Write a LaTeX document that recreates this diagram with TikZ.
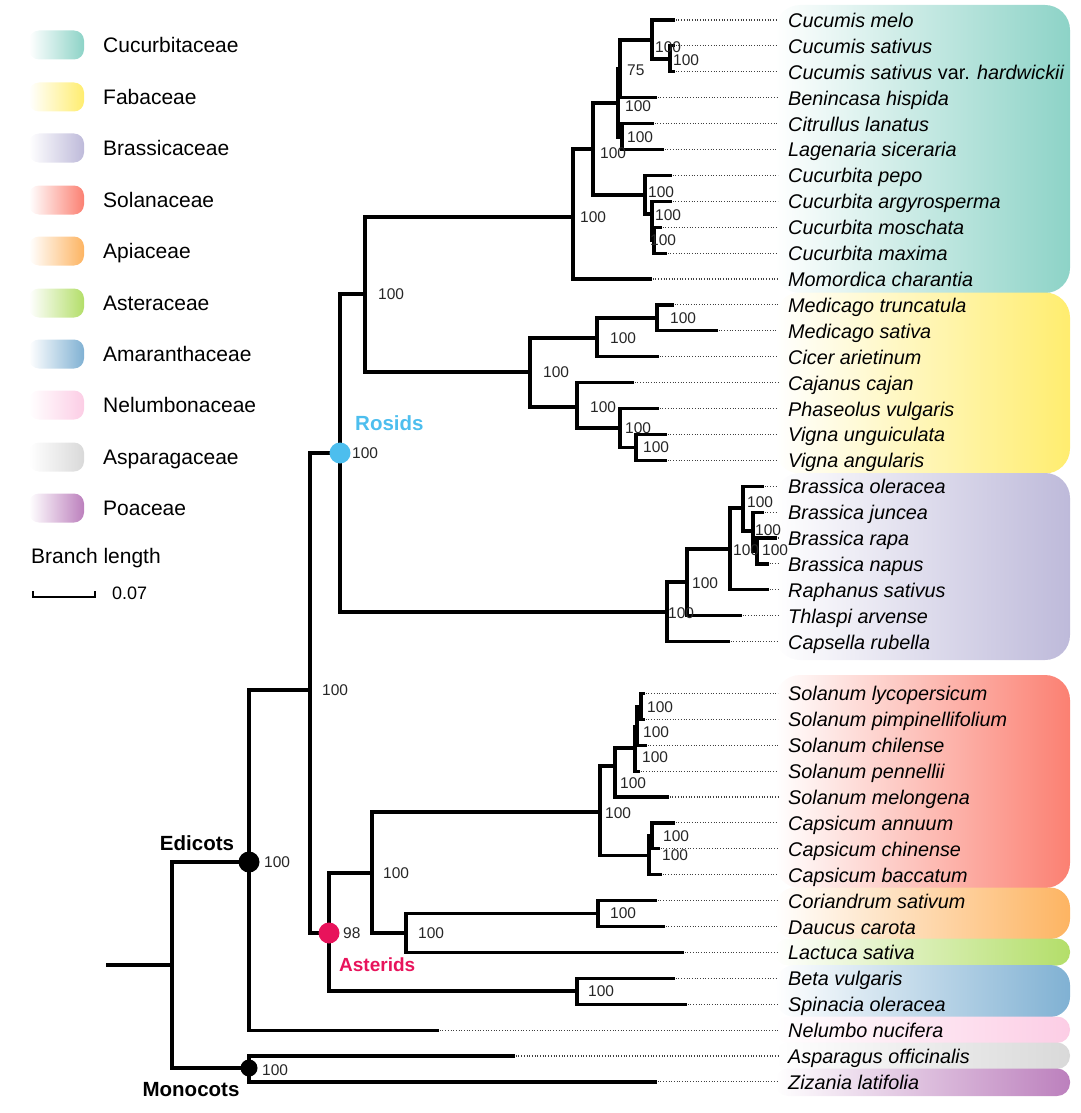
\documentclass[tikz,border=0pt]{standalone}
\usepackage{fontspec}
\setmainfont{Liberation Sans}
\usetikzlibrary{calc}
\definecolor{cucc}{HTML}{8DD3C7}
\definecolor{fabc}{HTML}{FFED6F}
\definecolor{brac}{HTML}{BEBADA}
\definecolor{solc}{HTML}{FB8072}
\definecolor{apic}{HTML}{FDB462}
\definecolor{astc}{HTML}{B3DE69}
\definecolor{amac}{HTML}{80B1D3}
\definecolor{nelc}{HTML}{FCCDE5}
\definecolor{aspc}{HTML}{D9D9D9}
\definecolor{poac}{HTML}{BC80BD}
\definecolor{rosc}{HTML}{4DBEEE}
\definecolor{astr}{HTML}{E8135B}
\newcommand\leaf[4]{%
  \coordinate (#1) at (#3,#2);
  \coordinate (#1E) at (778,#2);
  \node[leaflabel] (#1L) at (788,{#2+7.5}) {#4};
  \draw[leader] (#1) -- (#1E);}
\newcommand\bsl[5]{\node[bs] (bs#1) at ([shift={(#3,#4)}]#2) {#5};}
\newcommand\band[5]{\path[left color=white,right color=#1,rounded corners=#4] (775,#2) rectangle (1070,#3) node[inner sep=0pt] (#5) {};}
\newcommand\legitem[4]{%
  \path[left color=white,right color=#2,rounded corners=10] (29,{#3-14.5}) rectangle (84,{#3+14.5});
  \node[legtext] (#1) at (103,{#3+7.5}) {#4};}
\begin{document}
\begin{tikzpicture}[x=1pt,y=-1pt,
  branch/.style={line width=3.2pt, line cap=rect, line join=miter},
  leader/.style={line width=1.1pt, black!75, dash pattern=on 1pt off 1.7pt},
  leaflabel/.style={anchor=base west, inner sep=0pt, font=\fontsize{19.8}{22}\selectfont\itshape},
  bs/.style={anchor=west, inner sep=0pt, font=\fontsize{15.5}{17}\selectfont, text=black!85},
  legtext/.style={anchor=base west, inner sep=0pt, font=\fontsize{21}{24}\selectfont},
  cladelab/.style={anchor=base, inner sep=0pt, font=\fontsize{20.5}{24}\selectfont\bfseries},
  clademark/.style={circle, inner sep=0pt, minimum size=#1}]
\useasboundingbox (0,0) rectangle (1080,1113);

% family bands
\band{cucc}{5}{293}{25}{bandCuc}
\band{fabc}{292.5}{473.5}{25}{bandFab}
\band{brac}{473}{660}{25}{bandBra}
\band{solc}{675}{888}{25}{bandSol}
\band{apic}{887.5}{939}{20}{bandApi}
\band{astc}{938.5}{965.5}{13}{bandAst}
\band{amac}{965}{1017}{20}{bandAma}
\band{nelc}{1016.5}{1043}{13}{bandNel}
\band{aspc}{1042.5}{1069}{13}{bandAsp}
\band{poac}{1068.5}{1096}{13}{bandPoa}

% legend
\legitem{lg1}{cucc}{45}{Cucurbitaceae}
\legitem{lg2}{fabc}{97}{Fabaceae}
\legitem{lg3}{brac}{148}{Brassicaceae}
\legitem{lg4}{solc}{200}{Solanaceae}
\legitem{lg5}{apic}{251}{Apiaceae}
\legitem{lg6}{astc}{303}{Asteraceae}
\legitem{lg7}{amac}{354}{Amaranthaceae}
\legitem{lg8}{nelc}{405}{Nelumbonaceae}
\legitem{lg9}{aspc}{457}{Asparagaceae}
\legitem{lg10}{poac}{508}{Poaceae}
\node[legtext] (blen) at (31,563) {Branch length};
\coordinate (sb1) at (33,591);
\coordinate (sb2) at (33,597);
\coordinate (sb3) at (95,597);
\coordinate (sb4) at (95,591);
\draw[line width=1.8pt] (sb1) -- (sb2) -- (sb3) -- (sb4);
\node[anchor=base west, inner sep=0pt, font=\fontsize{18}{20}\selectfont] (sbl) at (112,599) {0.07};

% leaves
\leaf{melo}{20.0}{673}{Cucumis melo}
\leaf{sati}{45.9}{673}{Cucumis sativus}
\leaf{hard}{71.8}{673}{Cucumis sativus \textup{var.} hardwickii}
\leaf{beni}{97.7}{655}{Benincasa hispida}
\leaf{citr}{123.6}{652}{Citrullus lanatus}
\leaf{lage}{149.5}{662}{Lagenaria siceraria}
\leaf{pepo}{175.4}{670}{Cucurbita pepo}
\leaf{argy}{201.3}{670}{Cucurbita argyrosperma}
\leaf{mosc}{227.2}{660}{Cucurbita moschata}
\leaf{maxi}{253.1}{665}{Cucurbita maxima}
\leaf{momo}{279.0}{650}{Momordica charantia}
\leaf{mtru}{304.9}{672}{Medicago truncatula}
\leaf{msat}{330.8}{716}{Medicago sativa}
\leaf{cice}{356.7}{657}{Cicer arietinum}
\leaf{caja}{382.6}{632}{Cajanus cajan}
\leaf{phas}{408.5}{657}{Phaseolus vulgaris}
\leaf{vung}{434.4}{665}{Vigna unguiculata}
\leaf{vang}{460.3}{665}{Vigna angularis}
\leaf{bole}{486.2}{762}{Brassica oleracea}
\leaf{bjun}{512.1}{762}{Brassica juncea}
\leaf{brap}{538.0}{775}{Brassica rapa}
\leaf{bnap}{563.9}{767}{Brassica napus}
\leaf{raph}{589.8}{767}{Raphanus sativus}
\leaf{thla}{615.7}{740}{Thlaspi arvense}
\leaf{caps}{641.6}{728}{Capsella rubella}
\leaf{slyc}{693.4}{643}{Solanum lycopersicum}
\leaf{spim}{719.3}{643}{Solanum pimpinellifolium}
\leaf{schi}{745.2}{645}{Solanum chilense}
\leaf{spen}{771.1}{638}{Solanum pennellii}
\leaf{smel}{797.0}{667}{Solanum melongena}
\leaf{cann}{822.9}{673}{Capsicum annuum}
\leaf{cchi}{848.8}{658}{Capsicum chinense}
\leaf{cbac}{874.7}{660}{Capsicum baccatum}
\leaf{cori}{900.6}{655}{Coriandrum sativum}
\leaf{dauc}{926.5}{663}{Daucus carota}
\leaf{lact}{952.4}{682}{Lactuca sativa}
\leaf{beta}{978.3}{673}{Beta vulgaris}
\leaf{spin}{1004.2}{685}{Spinacia oleracea}
\leaf{nelu}{1030.1}{437}{Nelumbo nucifera}
\leaf{aspa}{1056.0}{513}{Asparagus officinalis}
\leaf{ziza}{1081.9}{655}{Zizania latifolia}

% internal nodes
\coordinate (root0) at (108,965);
\coordinate (root) at (172,965);
\coordinate (ED) at (249,862);
\coordinate (MO) at (249,1068);
\coordinate (P) at (310,690);
\coordinate (RO) at (340,453);
\coordinate (AS) at (329,933);
\coordinate (R1) at (365,294);
\coordinate (C0) at (573,217);
\coordinate (C1) at (593,149);
\coordinate (CA) at (618,103);
\coordinate (CB) at (620,69);
\coordinate (CC) at (622,137);
\coordinate (CM) at (652,40);
\coordinate (CS) at (670,59);
\coordinate (CD) at (645,195);
\coordinate (CE) at (652,214);
\coordinate (CF) at (654,240);
\coordinate (F0) at (530,372);
\coordinate (F1) at (597,338);
\coordinate (F2) at (577,407);
\coordinate (F3) at (657,318);
\coordinate (F4) at (620,428);
\coordinate (F5) at (636,447.4);
\coordinate (B0) at (667,612);
\coordinate (B1) at (687,582);
\coordinate (B2) at (730,549);
\coordinate (B3) at (743,508);
\coordinate (B4) at (753,531);
\coordinate (B5) at (757,551);
\coordinate (S0) at (372,873);
\coordinate (SO) at (600,812);
\coordinate (SM) at (615,766);
\coordinate (L3) at (635,748);
\coordinate (L2) at (637,727);
\coordinate (L1) at (641,706.4);
\coordinate (K2) at (649,855.5);
\coordinate (K1) at (652,836);
\coordinate (AP0) at (406,933);
\coordinate (AP1) at (598,913.5);
\coordinate (AM) at (577,991);

% branches
\draw[branch] (root0) -- (root);
\foreach \p/\c in {root/ED, root/MO, ED/P, ED/nelu, P/RO, P/AS, RO/R1, RO/B0,
  R1/C0, R1/F0, C0/C1, C0/momo, C1/CA, C1/CD, CA/CB, CA/CC, CB/CM, CB/beni,
  CM/melo, CM/CS, CS/sati, CS/hard, CC/citr, CC/lage, CD/pepo, CD/CE, CE/argy, CE/CF,
  CF/mosc, CF/maxi, F0/F1, F0/F2, F1/F3, F1/cice, F3/mtru, F3/msat, F2/caja, F2/F4,
  F4/phas, F4/F5, F5/vung, F5/vang, B0/B1, B0/caps, B1/B2, B1/thla, B2/B3, B2/raph,
  B3/bole, B3/B4, B4/bjun, B4/B5, B5/brap, B5/bnap, AS/S0, AS/AM, S0/SO, S0/AP0,
  SO/SM, SO/K2, SM/L3, SM/smel, L3/L2, L3/spen, L2/L1, L2/schi, L1/slyc, L1/spim,
  K2/K1, K2/cbac, K1/cann, K1/cchi, AP0/AP1, AP0/lact, AP1/cori, AP1/dauc,
  AM/beta, AM/spin, MO/aspa, MO/ziza}
  {\draw[branch] (\p) |- (\c);}

% clade markers
\node[clademark=21pt, fill=rosc] (ROc) at (RO) {};
\node[clademark=21pt, fill=astr] (ASc) at (AS) {};
\node[clademark=21pt, fill=black] (EDc) at (ED) {};
\node[clademark=17pt, fill=black] (MOc) at (MO) {};

% clade names
\node[cladelab, anchor=base west, text=rosc] (rosids) at (355,430) {Rosids};
\node[cladelab, anchor=base west, text=astr, font=\fontsize{19}{22}\selectfont\bfseries] (asterids) at (339,971) {Asterids};
\node[cladelab] (edicots) at (197,850) {Edicots};
\node[cladelab] (monocots) at (191,1096) {Monocots};

% support values
\bsl{ED}{ED}{15}{0}{100}
\bsl{MO}{MO}{13}{2}{100}
\bsl{P}{P}{12}{0}{100}
\bsl{RO}{RO}{12}{0}{100}
\bsl{AS}{AS}{14}{0}{98}
\bsl{R1}{R1}{13}{0}{100}
\bsl{C0}{C0}{7}{0}{100}
\bsl{C1}{C1}{7}{4}{100}
\bsl{CA}{CA}{7}{3}{100}
\bsl{CB}{CB}{7}{1}{75}
\bsl{CC}{CC}{5}{0}{100}
\bsl{CM}{CM}{3}{7}{100}
\bsl{CS}{CS}{3}{1}{100}
\bsl{CD}{CD}{3}{-3}{100}
\bsl{CE}{CE}{3}{1}{100}
\bsl{CF}{CF}{-4}{0}{100}
\bsl{F0}{F0}{13}{0}{100}
\bsl{F1}{F1}{13}{0}{100}
\bsl{F3}{F3}{13}{0}{100}
\bsl{F2}{F2}{13}{0}{100}
\bsl{F4}{F4}{5}{0}{100}
\bsl{F5}{F5}{7}{0}{100}
\bsl{B0}{B0}{1}{1}{100}
\bsl{B1}{B1}{5}{1}{100}
\bsl{B2}{B2}{3}{1}{100}
\bsl{B3}{B3}{4}{-6}{100}
\bsl{B4}{B4}{2}{-1}{100}
\bsl{B5}{B5}{5}{-1}{100}
\bsl{S0}{S0}{11}{0}{100}
\bsl{SO}{SO}{5}{1}{100}
\bsl{SM}{SM}{5}{17}{100}
\bsl{L1}{L1}{6}{1}{100}
\bsl{L2}{L2}{6}{5}{100}
\bsl{L3}{L3}{7}{9}{100}
\bsl{K1}{K1}{11}{0}{100}
\bsl{K2}{K2}{13}{0}{100}
\bsl{AP0}{AP0}{12}{0}{100}
\bsl{AP1}{AP1}{12}{0}{100}
\bsl{AM}{AM}{11}{0}{100}
\end{tikzpicture}
\end{document}
